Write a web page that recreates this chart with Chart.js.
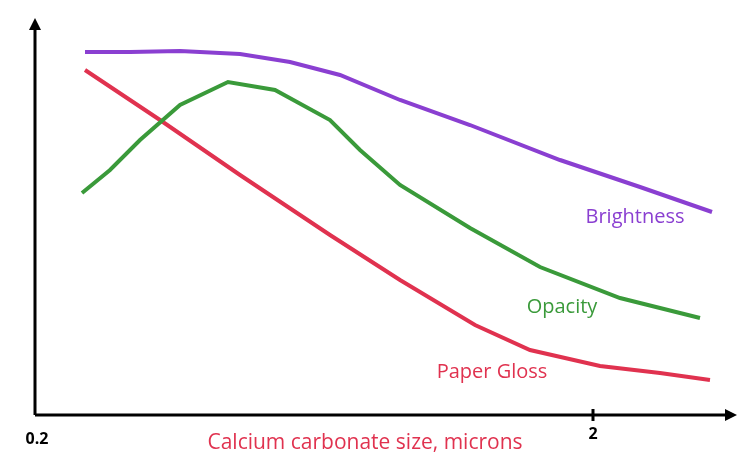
<!DOCTYPE html>
<html><head><meta charset="utf-8">
<script src="https://cdn.jsdelivr.net/npm/chart.js@4"></script>
<style>html,body{margin:0;background:#fff}#w{width:748px;height:467px}</style>
</head><body><div id="w"><canvas id="c"></canvas></div>
<script>
const brightnessX=[50,95,145,205,255,305,365,435,525,605,677];
const brightnessY=[363,363,364,361,353,340,315,290,255,228,203];
const opacityX=[47,75,105,145,193,240,295,325,365,435,505,585,665];
const opacityY=[222,245,275,310,333,325,295,265,230,187,148,117,97];
const glossX=[50,125,205,295,365,440,495,565,625,675];
const glossY=[345,295,240,180,135,90,65,49,42,35];
const tickLabels=[{x:0,t:"0.2"},{x:558,t:"2"}];
const seriesLabels=[{t:"Brightness",x:600,y:198,c:"#8a3fd1"},{t:"Opacity",x:527,y:108,c:"#3a9a3a"},{t:"Paper Gloss",x:457,y:43,c:"#e0324f"}];
const xTitle="Calcium carbonate size, microns";
const pts=(xs,ys)=>xs.map((x,i)=>({x,y:ys[i]}));
const deco={id:'deco',afterDraw(ch){
 const c=ch.ctx,a=ch.chartArea,xs=ch.scales.x,ys=ch.scales.y;
 c.save();c.strokeStyle='#000';c.fillStyle='#000';c.lineWidth=3;
 c.beginPath();c.moveTo(a.left,a.bottom);c.lineTo(a.right-6,a.bottom);c.moveTo(a.left,a.bottom);c.lineTo(a.left,a.top+6);c.stroke();
 c.beginPath();c.moveTo(a.right+2,a.bottom);c.lineTo(a.right-10,a.bottom-6);c.lineTo(a.right-10,a.bottom+6);c.fill();
 c.beginPath();c.moveTo(a.left,a.top-4);c.lineTo(a.left-6,a.top+8);c.lineTo(a.left+6,a.top+8);c.fill();
 const tx=xs.getPixelForValue(558);c.beginPath();c.moveTo(tx,a.bottom-6);c.lineTo(tx,a.bottom+6);c.stroke();
 c.font='bold 16px "Open Sans"';c.textAlign='center';c.textBaseline='top';
 tickLabels.forEach(l=>c.fillText(l.t,xs.getPixelForValue(l.x)+(l.x?0:2),a.bottom+(l.x?11:16)));
 c.font='20px "Open Sans"';c.textBaseline='middle';
 seriesLabels.forEach(l=>{c.fillStyle=l.c;c.fillText(l.t,xs.getPixelForValue(l.x),ys.getPixelForValue(l.y));});
 c.fillStyle='#e0324f';c.font='21px "Open Sans"';c.fillText(xTitle,365,443);
 c.restore();}};
const ds=(d,col)=>({data:d,borderColor:col,borderWidth:4,pointRadius:0,tension:0,fill:false});
new Chart(document.getElementById('c'),{type:'line',
 data:{datasets:[ds(pts(brightnessX,brightnessY),'#8a3fd1'),ds(pts(opacityX,opacityY),'#3a9a3a'),ds(pts(glossX,glossY),'#e0324f')]},
 options:{responsive:true,maintainAspectRatio:false,animation:false,
  layout:{padding:{left:35,right:13,top:22,bottom:52}},
  plugins:{legend:{display:false},tooltip:{enabled:false}},
  scales:{x:{type:'linear',min:0,max:700,display:false},y:{min:0,max:393,display:false}}},
 plugins:[deco]});
</script></body></html>
